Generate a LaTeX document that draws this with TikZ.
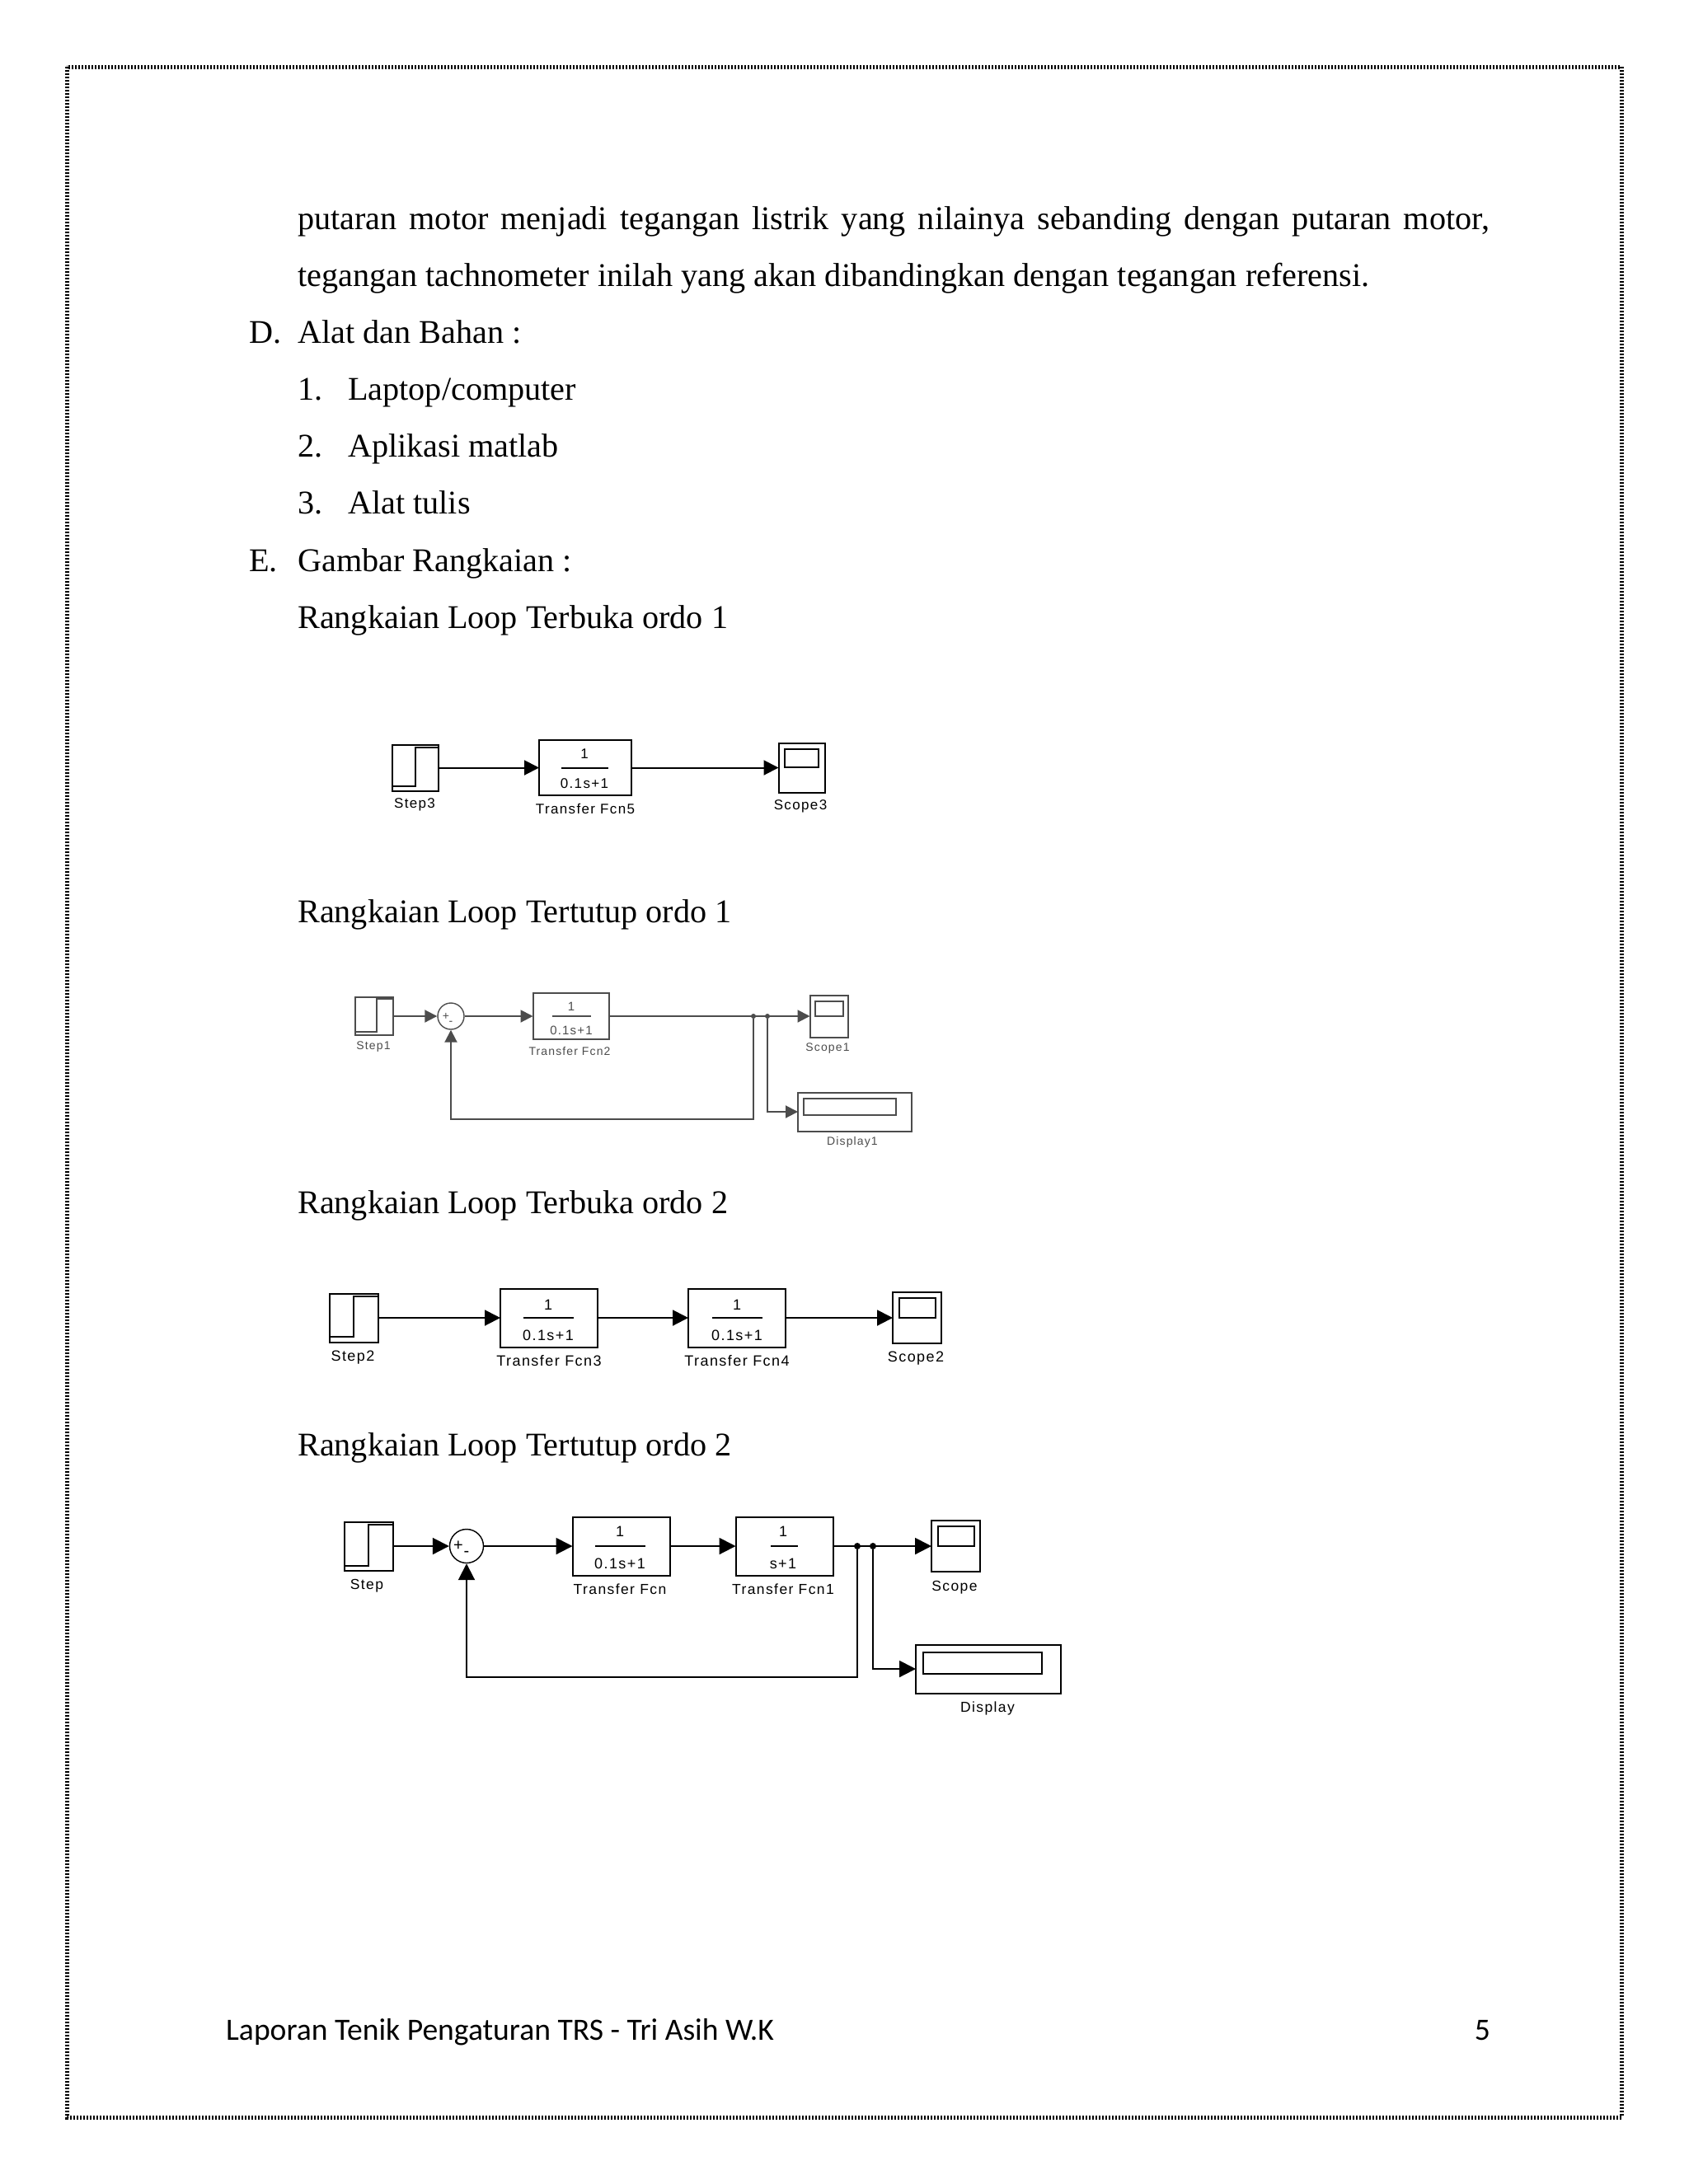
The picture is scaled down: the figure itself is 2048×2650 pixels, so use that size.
\documentclass[tikz,border=0pt]{standalone}
\usepackage{fontspec}
\setmainfont{Liberation Serif}
\setsansfont{Liberation Sans}
\newfontfamily\footfont{Carlito}
\usetikzlibrary{arrows.meta}

\begin{document}
\begin{tikzpicture}[
    x=1pt, y=-1pt,
    bodytext/.style = {
        anchor=base west,
        inner sep=0pt,
        font=\fontsize{40.2}{48}\selectfont
    },
    foottext/.style = {
        anchor=base west,
        inner sep=0pt,
        font=\footfont\fontsize{37.6}{44}\selectfont
    },
    block/.style = {
        draw,
        line width=2pt,
        inner sep=0pt,
        outer sep=0pt,
        fill=white
    },
    sumblock/.style = {
        draw,
        circle,
        line width=1.4pt,
        inner sep=0pt,
        minimum size=#1
    },
    caption/.style = {
        inner sep=0pt,
        font=\sffamily\addfontfeature{LetterSpace=8}\fontsize{#1}{#1}\selectfont
    },
    wire/.style = {
        line width=2pt,
        -{Triangle[length=#1, width=#1]}
    },
    plainwire/.style = {line width=2pt},
    junction/.style = {
        fill,
        circle,
        inner sep=0pt,
        minimum size=8pt
    }
]
\useasboundingbox (0,0) rectangle (2048,2650);

% --- Page frame ---
\draw[line width=5pt, dash pattern=on 2pt off 2pt] (81,81) rectangle (1967,2569);

% --- Body text ---
\node[bodytext] (line1) at (361,278) {\makebox[1446pt][s]{putaran motor menjadi tegangan listrik yang nilainya sebanding dengan putaran motor,}};
\node[bodytext] (line2) at (361,347) {tegangan tachnometer inilah yang akan dibandingkan dengan tegangan referensi.};
\node[bodytext] (markD) at (302,416) {D.};
\node[bodytext] (headD) at (361,416) {Alat dan Bahan :};
\node[bodytext] (mark1) at (361,485) {1.};
\node[bodytext] (item1) at (422,485) {Laptop/computer};
\node[bodytext] (mark2) at (361,554) {2.};
\node[bodytext] (item2) at (422,554) {Aplikasi matlab};
\node[bodytext] (mark3) at (361,623) {3.};
\node[bodytext] (item3) at (422,623) {Alat tulis};
\node[bodytext] (markE) at (302,693) {E.};
\node[bodytext] (headE) at (361,693) {Gambar Rangkaian :};
\node[bodytext] (title1) at (361,762) {Rangkaian Loop Terbuka ordo 1};
\node[bodytext] (title2) at (361,1119) {Rangkaian Loop Tertutup ordo 1};
\node[bodytext] (title3) at (361,1472) {Rangkaian Loop Terbuka ordo 2};
\node[bodytext] (title4) at (361,1766) {Rangkaian Loop Tertutup ordo 2};

% --- Open loop, first order ---
\node[block, minimum width=56pt, minimum height=56pt] (step3) at (504,931.5) {};
\node[block, minimum width=112pt, minimum height=67pt] (tf5) at (710,931.5) {};
\node[block, minimum width=56pt, minimum height=60pt] (scope3) at (972.5,931.5) {};
\draw[line width=2pt] (step3.west |- 0,954) -- (504,954) -- (504,907) -- (step3.east |- 0,907);
\draw[line width=2pt] (952,909) rectangle (993,931);
\node[caption=17] (num5) at (709,915) {1};
\draw[plainwire] (681,931.5) -- (738,931.5);
\node[caption=17] (den5) at (709,951) {0.1s+1};
\node[caption=17] (step3lbl) at (503,976) {Step3};
\node[caption=17] (tf5lbl) at (710,981) {Transfer Fcn5};
\node[caption=17] (scope3lbl) at (971,978) {Scope3};
\draw[wire=18pt] (step3.east) -- (tf5.west);
\draw[wire=18pt] (tf5.east) -- (scope3.west);

% --- Closed loop, first order ---
\begin{scope}[color=black!70]
\node[block, minimum width=46pt, minimum height=46pt] (step1) at (454,1233) {};
\node[sumblock=32pt] (sum1) at (547,1233) {};
\node[block, minimum width=92pt, minimum height=56pt] (tf2) at (692.5,1233) {};
\node[block, minimum width=46pt, minimum height=51pt] (scope1) at (1005.5,1233) {};
\node[block, minimum width=138pt, minimum height=47pt] (display1) at (1037,1349) {};
\draw[line width=2pt] (step1.west |- 0,1252) -- (457,1252) -- (457,1212) -- (step1.east |- 0,1212);
\draw[line width=2pt] (989,1215) rectangle (1023,1233);
\draw[line width=2pt] (975,1333) rectangle (1087,1353);
\node[caption=14] (plus1) at (541,1233) {+};
\node[caption=14] (minus1) at (547,1241) {-};
\node[caption=15] (num2) at (693,1221) {1};
\draw[plainwire] (670,1233) -- (717,1233);
\node[caption=15] (den2) at (693,1250) {0.1s+1};
\node[caption=14] (step1lbl) at (453,1270) {Step1};
\node[caption=14] (tf2lbl) at (691,1275) {Transfer Fcn2};
\node[caption=14] (scope1lbl) at (1004,1272) {Scope1};
\node[caption=14] (display1lbl) at (1034,1386) {Display1};
\node[junction, minimum size=6pt] (j1a) at (914,1233) {};
\node[junction, minimum size=6pt] (j1b) at (931,1233) {};
\coordinate (fb1) at (914,1358);
\draw[wire=15pt] (step1.east) -- (sum1.west);
\draw[wire=15pt] (sum1.east) -- (tf2.west);
\draw[wire=15pt] (tf2.east) -- (scope1.west);
\draw[wire=15pt] (j1b) |- (display1.west);
\draw[wire=15pt] (j1a) -- (fb1) -| (sum1.south);
\end{scope}

% --- Open loop, second order ---
\node[block, minimum width=59pt, minimum height=59pt] (step2) at (429,1599) {};
\node[block, minimum width=118pt, minimum height=71pt] (tf3) at (666,1599) {};
\node[block, minimum width=118pt, minimum height=71pt] (tf4) at (894,1599) {};
\node[block, minimum width=59pt, minimum height=62pt] (scope2) at (1112.5,1599) {};
\draw[line width=2pt] (step2.west |- 0,1622) -- (429,1622) -- (429,1573) -- (step2.east |- 0,1573);
\draw[line width=2pt] (1091,1575) rectangle (1135,1599);
\node[caption=18] (num3) at (665,1583) {1};
\draw[plainwire] (635,1599) -- (696,1599);
\node[caption=18] (den3) at (665,1620) {0.1s+1};
\node[caption=18] (num4) at (894,1583) {1};
\draw[plainwire] (864,1599) -- (925,1599);
\node[caption=18] (den4) at (894,1620) {0.1s+1};
\node[caption=18] (step2lbl) at (428,1647) {Step2};
\node[caption=18] (tf3lbl) at (666,1651) {Transfer Fcn3};
\node[caption=18] (tf4lbl) at (894,1651) {Transfer Fcn4};
\node[caption=18] (scope2lbl) at (1111,1648) {Scope2};
\draw[wire=19pt] (step2.east) -- (tf3.west);
\draw[wire=19pt] (tf3.east) -- (tf4.west);
\draw[wire=19pt] (tf4.east) -- (scope2.west);

% --- Closed loop, second order ---
\node[block, minimum width=59pt, minimum height=59pt] (step) at (447,1876) {};
\node[sumblock=41pt] (sum) at (566,1876) {};
\node[block, minimum width=118pt, minimum height=71pt] (tf) at (753.5,1876) {};
\node[block, minimum width=118pt, minimum height=71pt] (tf1) at (951.5,1876) {};
\node[block, minimum width=59pt, minimum height=62pt] (scope) at (1159.5,1876) {};
\node[block, minimum width=176pt, minimum height=59pt] (display) at (1199,2025) {};
\draw[line width=2pt] (step.west |- 0,1900) -- (447,1900) -- (447,1850) -- (step.east |- 0,1850);
\draw[line width=2pt] (1138,1852) rectangle (1182,1876);
\draw[line width=2pt] (1120,2005) rectangle (1264,2031);
\node[caption=20] (plus) at (556,1876) {+};
\node[caption=20] (minus) at (566,1885) {-};
\node[caption=18] (num) at (752,1858) {1};
\draw[plainwire] (722,1876) -- (783,1876);
\node[caption=18] (den) at (752,1897) {0.1s+1};
\node[caption=18] (num1) at (950,1858) {1};
\draw[plainwire] (935,1876) -- (968,1876);
\node[caption=18] (den1) at (950,1897) {s+1};
\node[caption=17.5] (steplbl) at (445,1924) {Step};
\node[caption=17.5] (tflbl) at (752,1928) {Transfer Fcn};
\node[caption=17.5] (tf1lbl) at (950,1928) {Transfer Fcn1};
\node[caption=17.5] (scopelbl) at (1158,1926) {Scope};
\node[caption=17.5] (displaylbl) at (1198,2073) {Display};
\node[junction] (ja) at (1040,1876) {};
\node[junction] (jb) at (1059,1876) {};
\coordinate (fb) at (1040,2035);
\draw[wire=20pt] (step.east) -- (sum.west);
\draw[wire=20pt] (sum.east) -- (tf.west);
\draw[wire=20pt] (tf.east) -- (tf1.west);
\draw[wire=20pt] (tf1.east) -- (scope.west);
\draw[wire=20pt] (jb) |- (display.west);
\draw[wire=20pt] (ja) -- (fb) -| (sum.south);

% --- Footer ---
\node[foottext] (footer) at (274,2475) {Laporan Tenik Pengaturan TRS - Tri Asih W.K};
\node[foottext, anchor=base east] (pagenum) at (1808,2475) {5};

\end{tikzpicture}
\end{document}
